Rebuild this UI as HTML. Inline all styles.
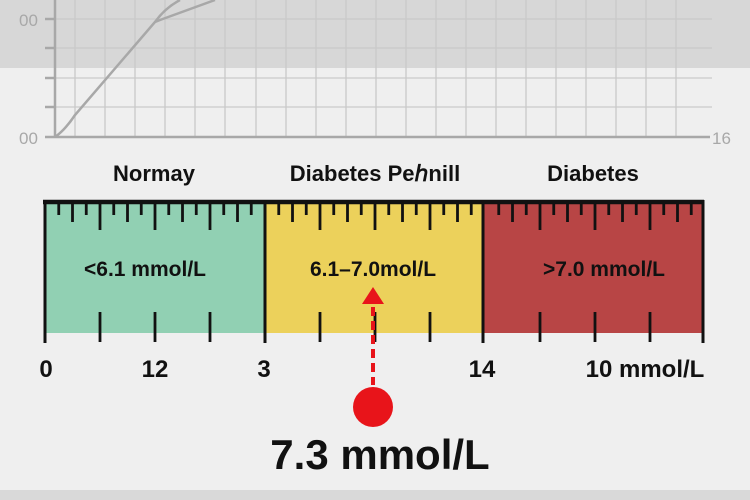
<!DOCTYPE html>
<html><head><meta charset="utf-8"><style>
html,body{margin:0;padding:0;background:#efefef;}
svg{display:block;font-family:"Liberation Sans",sans-serif;}
</style></head><body>
<svg width="750" height="500" viewBox="0 0 750 500" xmlns="http://www.w3.org/2000/svg">
<rect x="0" y="0" width="750" height="500" fill="#efefef"/>
<rect x="0" y="0" width="750" height="68" fill="#d7d7d7"/>
<g stroke="#c9c9c9" stroke-width="1.3">
<line x1="75" y1="0" x2="75" y2="137"/><line x1="105" y1="0" x2="105" y2="137"/><line x1="135" y1="0" x2="135" y2="137"/><line x1="165" y1="0" x2="165" y2="137"/><line x1="195" y1="0" x2="195" y2="137"/><line x1="225" y1="0" x2="225" y2="137"/><line x1="256" y1="0" x2="256" y2="137"/><line x1="286" y1="0" x2="286" y2="137"/><line x1="316" y1="0" x2="316" y2="137"/><line x1="346" y1="0" x2="346" y2="137"/><line x1="376" y1="0" x2="376" y2="137"/><line x1="406" y1="0" x2="406" y2="137"/><line x1="436" y1="0" x2="436" y2="137"/><line x1="466" y1="0" x2="466" y2="137"/><line x1="496" y1="0" x2="496" y2="137"/><line x1="526" y1="0" x2="526" y2="137"/><line x1="556" y1="0" x2="556" y2="137"/><line x1="586" y1="0" x2="586" y2="137"/><line x1="616" y1="0" x2="616" y2="137"/><line x1="646" y1="0" x2="646" y2="137"/><line x1="676" y1="0" x2="676" y2="137"/>
<line x1="53" y1="19" x2="712" y2="19"/><line x1="53" y1="48" x2="712" y2="48"/><line x1="53" y1="78" x2="712" y2="78"/><line x1="53" y1="107" x2="712" y2="107"/>
</g>
<g stroke="#a8a8a8" stroke-width="2.5" fill="none">
<line x1="55" y1="0" x2="55" y2="137"/>
<line x1="45" y1="137" x2="710" y2="137"/>
<line x1="45" y1="19" x2="55" y2="19"/><line x1="45" y1="48" x2="55" y2="48"/><line x1="45" y1="78" x2="55" y2="78"/><line x1="45" y1="107" x2="55" y2="107"/>
<path d="M55,137 Q65,130 75,115 L155,22 Q165,8 180,0"/>
<path d="M155,22 L160,20 L215,0"/>
</g>
<g fill="#a8a8a8" font-size="17">
<text x="19" y="26">00</text><text x="19" y="144">00</text><text x="712" y="144">16</text>
</g>
<g font-weight="bold" font-size="22" fill="#111" text-anchor="middle">
<text x="154" y="181">Normay</text><text x="375" y="181">Diabetes Pe&#8462;nill</text><text x="593" y="181">Diabetes</text>
</g>
<rect x="45" y="203" width="220" height="130" fill="#91d0b3"/>
<rect x="265" y="203" width="218" height="130" fill="#ecd15b"/>
<rect x="483" y="203" width="220" height="130" fill="#b84545"/>
<line x1="43" y1="202" x2="704" y2="202" stroke="#111" stroke-width="4.5"/>
<g stroke="#111" stroke-width="3">
<line x1="45" y1="200" x2="45" y2="343"/><line x1="265" y1="200" x2="265" y2="343"/><line x1="483" y1="200" x2="483" y2="343"/><line x1="703" y1="200" x2="703" y2="343"/>
</g>
<g stroke="#111" stroke-width="2.8" id="ticks"></g>
<g font-weight="bold" font-size="21" fill="#111" text-anchor="middle">
<text x="145" y="276">&lt;6.1 mmol/L</text><text x="373" y="276">6.1–7.0mol/L</text><text x="604" y="276">&gt;7.0 mmol/L</text>
</g>
<g font-weight="bold" font-size="24" fill="#111" text-anchor="middle">
<text x="46" y="377">0</text><text x="155" y="377">12</text><text x="264" y="377">3</text><text x="482" y="377">14</text><text x="645" y="377">10 mmol/L</text>
</g>
<polygon points="373,287 362,304 384,304" fill="#e8141a"/>
<line x1="373" y1="307" x2="373" y2="385" stroke="#e8141a" stroke-width="4" stroke-dasharray="9,5"/>
<circle cx="373" cy="407" r="20" fill="#e8141a"/>
<text x="380" y="469" text-anchor="middle" font-weight="bold" font-size="42" fill="#111">7.3 mmol/L</text>
<rect x="0" y="490" width="750" height="10" fill="#d9d9d9"/>
</svg>
<script>
var g=document.getElementById('ticks'),s='';
for(var i=1;i<48;i++){var x=45+i*13.75;if(i%16==0)continue;var y2=(i%4==0)?230:(i%2==0?222:215);
s+='<line x1="'+x+'" y1="203" x2="'+x+'" y2="'+y2+'"/>';}
for(var j=1;j<12;j++){var x=45+j*55;if(j%4==0)continue;s+='<line x1="'+x+'" y1="312" x2="'+x+'" y2="342"/>';}
g.innerHTML=s;
</script>
</body></html>
